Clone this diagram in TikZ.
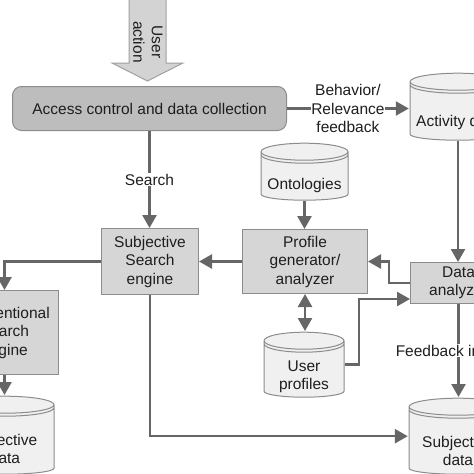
\documentclass[tikz,border=0pt]{standalone}
\usepackage{fontspec}
\setmainfont{Liberation Sans}
\usetikzlibrary{arrows.meta,calc}
\definecolor{boxfill}{HTML}{D6D6D6}
\definecolor{accfill}{HTML}{BDBDBD}
\definecolor{cylfill}{HTML}{F0F0F0}
\definecolor{bordc}{HTML}{8C8C8C}
\definecolor{arrc}{HTML}{666666}
\definecolor{txtc}{HTML}{1E1E1E}
\definecolor{uafill}{HTML}{D3D3D3}
\definecolor{uabord}{HTML}{A0A0A0}
\newcommand\cylry{8.5pt}
\newcommand\cylrb{6pt}
\newcommand\cylshape{%
  \path[draw=bordc, fill=cylfill, line width=1pt]
    let \p1=(path picture bounding box.north west),
        \p2=(path picture bounding box.south east),
        \n1={(\x2-\x1)/2-1pt},
        \n2={\y1-1pt-\cylry}
    in (\x1+1pt,\n2) -- (\x1+1pt,\y2+1pt+\cylrb)
       arc[start angle=180,end angle=360,x radius=\n1,y radius=\cylrb]
       -- (\x2-1pt,\n2)
       arc[start angle=0,end angle=180,x radius=\n1,y radius=\cylry]
       -- cycle
       (\x1+1pt,\n2) arc[start angle=180,end angle=360,x radius=\n1,y radius=\cylry]
       (\x1+1pt,\n2-3pt) arc[start angle=180,end angle=360,x radius=\n1,y radius=\cylry];
}
\begin{document}
\begin{tikzpicture}[x=1pt,y=-1pt,
  every node/.style={font=\fontsize{15.5}{18.5}\selectfont, text=txtc},
  box/.style={draw=bordc, line width=1pt, fill=boxfill, align=center, inner sep=0},
  cyl/.style 2 args={minimum width=#1+2, minimum height=#2+2, inner sep=0, path picture={\cylshape}},
  cyltext/.style={align=center, inner sep=0, text=txtc},
  arr/.style={draw=arrc, line width=2.5pt, -{Triangle[length=13pt,width=14pt]}},
  darr/.style={draw=arrc, line width=2.5pt, {Triangle[length=13pt,width=14pt]}-{Triangle[length=13pt,width=14pt]}},
  lbl/.style={fill=white, inner sep=1pt, align=center}
]
\useasboundingbox (0,0) rectangle (474,474);
\clip (0,0) rectangle (474,474);

% user action arrow
\draw[draw=uabord, fill=uafill, line width=1pt] (129,-5) -- (129,63) -- (112,63) -- (147.5,81) -- (183,63) -- (166,63) -- (166,-5) -- cycle;
\node[rotate=-90, align=center, inner sep=0] (ua) at (148,42) {User\\action};

% boxes
\node[box, fill=accfill, rounded corners=9pt, minimum width=274, minimum height=44, anchor=north west] (acc) at (12,86) {Access control and data collection};
\node[box, minimum width=97, minimum height=66, anchor=north west] (sse) at (101,228) {Subjective\\Search\\engine};
\node[box, minimum width=125, minimum height=64, anchor=north west] (pga) at (242,229) {Profile\\generator/\\analyzer};
\node[box, minimum width=96, minimum height=41, anchor=north west] (dan) at (410,262) {Data\\analyzer};
\node[box, minimum width=108, minimum height=84, anchor=north west] (conv) at (-50,290) {Conventional\\Search\\engine};

% cylinders
\node[cyl={96}{67}, anchor=north, label={[cyltext,yshift=-15.5pt]center:{Activity data}}] (act) at (458,72) {};
\node[cyl={87}{57}, anchor=north, label={[cyltext,yshift=-13.5pt]center:{Ontologies}}] (ont) at (304.5,142) {};
\node[cyl={80}{65}, anchor=north, label={[cyltext,yshift=-12pt]center:{User\\profiles}}] (usr) at (304,331) {};
\node[cyl={98}{78}, anchor=north, label={[cyltext,yshift=-14pt]center:{Objective\\data}}] (obj) at (5,395) {};
\node[cyl={98}{76}, anchor=north, label={[cyltext,yshift=-15pt]center:{Subjective\\data}}] (sbd) at (458,397) {};

% connectors
\draw[arr] (acc.south) -- node[lbl]{Search} (acc.south |- sse.north);
\draw[arr] (acc.east) -- node[lbl, inner sep=0]{Behavior/\\Relevance\\feedback} (acc.east -| act.west);
\draw[arr] (ont.south) -- (ont.south |- pga.north);
\draw[arr] (pga.west) -- (pga.west -| sse.east);
\draw[arr] (sse.west) -| (conv.north);
\draw[arr] (conv.south) -- (conv.south |- obj.north);
\draw[arr] (sse.south) |- (sbd.west);
\draw[darr] (pga.south) -- (pga.south |- usr.north);
\draw[arr] (usr.east) -- ++(14,0) |- ([yshift=5pt]dan.south west);
\draw[arr] (dan.west) -- ++(-21,0) |- (pga.east);
\draw[arr] (act.south) -- (act.south |- dan.north);
\draw[arr] (dan.south) -- node[lbl, anchor=west, xshift=-65pt]{Feedback in} (dan.south |- sbd.north);
\end{tikzpicture}
\end{document}
